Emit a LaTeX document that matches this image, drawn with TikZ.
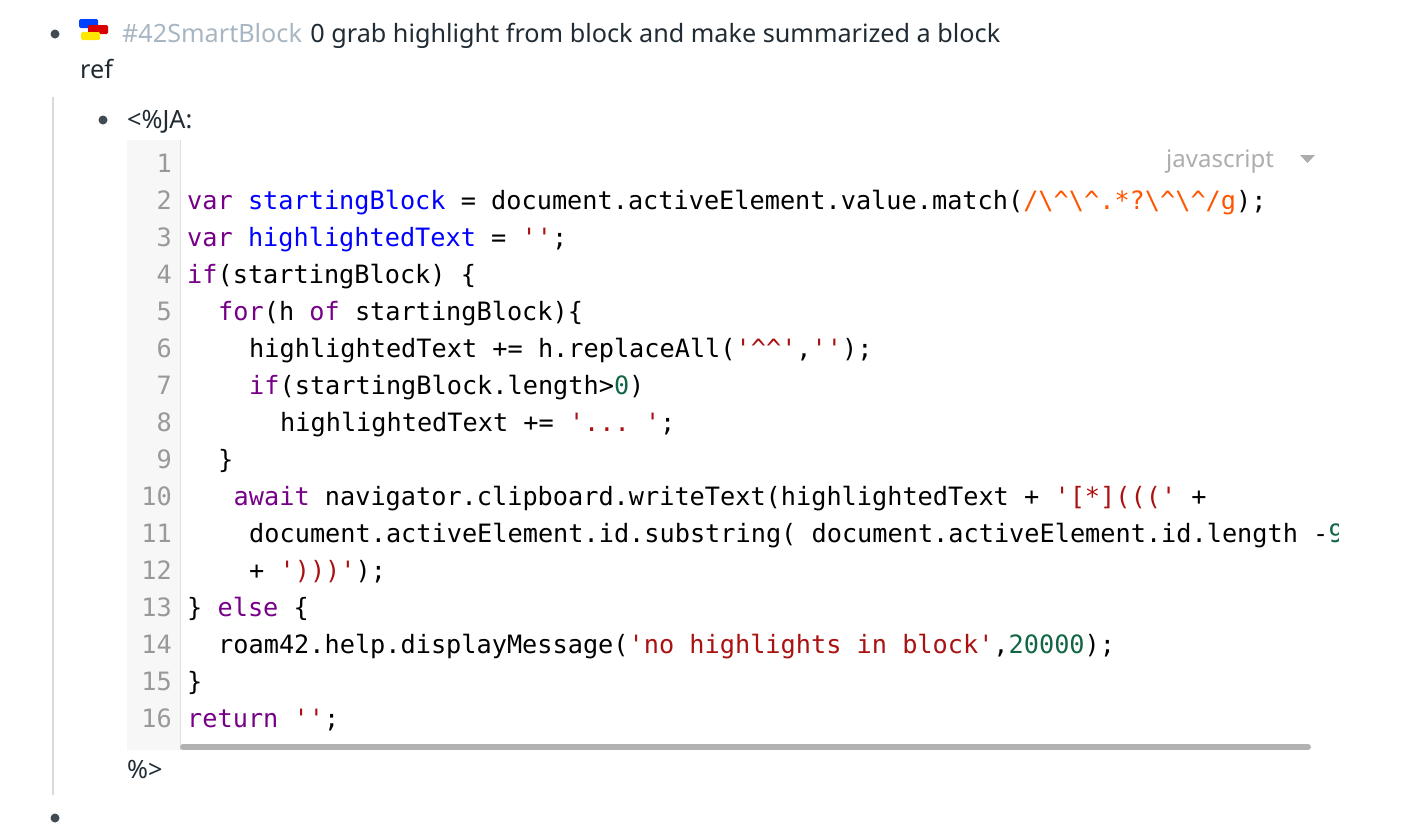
\documentclass[tikz,border=0pt]{standalone}
\usepackage{fontspec}
\setmainfont{Noto Sans}
\setmonofont{DejaVu Sans Mono}
\definecolor{txt}{HTML}{202B33}
\definecolor{tag}{HTML}{A7B6C2}
\definecolor{kwc}{HTML}{770088}
\definecolor{dfc}{HTML}{0000FF}
\definecolor{stc}{HTML}{AA1111}
\definecolor{rxc}{HTML}{FF5500}
\definecolor{nmc}{HTML}{116644}
\definecolor{gut}{HTML}{F7F7F7}
\definecolor{lnc}{HTML}{999999}
\newcommand\kw[1]{\textcolor{kwc}{#1}}
\newcommand\df[1]{\textcolor{dfc}{#1}}
\newcommand\st[1]{\textcolor{stc}{#1}}
\newcommand\rx[1]{\textcolor{rxc}{#1}}
\newcommand\nm[1]{\textcolor{nmc}{#1}}
\newcommand\bs{\textbackslash}
\newcommand\ca{\textasciicircum}
\begin{document}
\begin{tikzpicture}[x=1pt,y=-1pt,
  prose/.style={anchor=base west,inner sep=0,font=\fontsize{25.2}{30}\selectfont,text=txt},
  code/.style={anchor=base west,inner sep=0,font=\ttfamily\fontsize{25.25}{30}\selectfont,text=black},
  lnum/.style={anchor=base east,inner sep=0,font=\ttfamily\fontsize{25.25}{30}\selectfont,text=lnc},
  dot/.style={circle,fill=txt!85,inner sep=0,minimum size=9pt}]
\useasboundingbox (0,0) rectangle (1419,827);
\node[dot] (b1) at (55,34) {};
\fill[rounded corners=1.5pt,blue!75!cyan] (79,19) rectangle (98,28);
\fill[rounded corners=1.5pt,red!85!black] (88,25) rectangle (108,34);
\fill[rounded corners=1.5pt,yellow!90!orange] (81,32) rectangle (100,40);
\node[prose,text=tag] (tagn) at (122,42) {\#42SmartBlock};
\node[prose,anchor=base west] (title) at ([xshift=8pt]tagn.base east) {0 grab highlight from block and make summarized a block};
\node[prose] (ref) at (80,78) {ref};
\draw[draw=black!15,line width=1.2pt] (53,97) -- (53,795);
\node[dot] (b2) at (103,120) {};
\node[prose] (ja) at (127,128) {<\%JA:};
\fill[gut] (127,140) rectangle (180,750);
\draw[black!12] (180,140) -- (180,750);
\node[anchor=base west,inner sep=0,font=\fontsize{24}{28}\selectfont,text=lnc!80] (lang) at (1166,167) {javascript};
\fill[lnc!80] (1300,155) -- (1315,155) -- (1307.5,163) -- cycle;
\foreach \i in {1,...,16} {\node[lnum] (n\i) at (172,{172+37*(\i-1)}) {\i};}
\begin{scope}
\clip (180,140) rectangle (1338,760);
\node[code] (c2) at (187,209) {\kw{var} \df{startingBlock} = document.activeElement.value.match(\rx{/\bs\ca\bs\ca.*?\bs\ca\bs\ca/g});};
\node[code] (c3) at (187,246) {\kw{var} \df{highlightedText} = \st{''};};
\node[code] (c4) at (187,283) {\kw{if}(startingBlock) \{};
\node[code] (c5) at (218,320) {\kw{for}(h \kw{of} startingBlock)\{};
\node[code] (c6) at (249,357) {highlightedText += h.replaceAll(\st{'\ca\ca'},\st{''});};
\node[code] (c7) at (249,394) {\kw{if}(startingBlock.length>\nm{0})};
\node[code] (c8) at (280,431) {highlightedText += \st{'... '};};
\node[code] (c9) at (218,468) {\}};
\node[code] (c10) at (233.5,505) {\kw{await} navigator.clipboard.writeText(highlightedText + \st{'[*]((('} +};
\node[code] (c11) at (249,542) {document.activeElement.id.substring( document.activeElement.id.length -\nm{9}};
\node[code] (c12) at (249,579) {+ \st{')))'});};
\node[code] (c13) at (187,616) {\} \kw{else} \{};
\node[code] (c14) at (218,653) {roam42.help.displayMessage(\st{'no highlights in block'},\nm{20000});};
\node[code] (c15) at (187,690) {\}};
\node[code] (c16) at (187,727) {\kw{return} \st{''};};
\end{scope}
\draw[black!30,line width=6pt,line cap=round] (183,747) -- (1308,747);
\node[prose] (end) at (127,778) {\%>};
\node[dot] (b3) at (55,818) {};
\end{tikzpicture}
\end{document}
